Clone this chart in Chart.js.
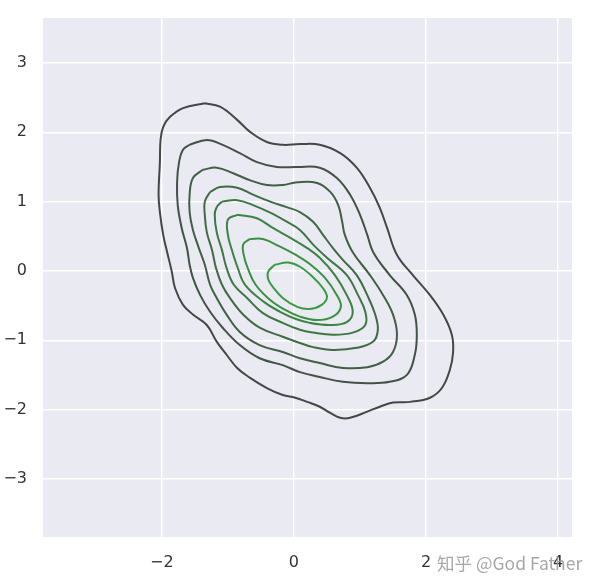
<!DOCTYPE html>
<html>
<head>
<meta charset="utf-8">
<script src="https://cdn.jsdelivr.net/npm/chart.js@4"></script>
<style>
  html, body { margin: 0; padding: 0; background: #ffffff; }
  #wrap { width: 600px; height: 587px; }
</style>
</head>
<body>
<div id="wrap"><canvas id="kdeChart" width="600" height="587"></canvas></div>
<script>
// tick values
const xTicks = [-2, 0, 2, 4];
const yTicks = [-3, -2, -1, 0, 1, 2, 3];

// KDE contour lines, from the outermost (lowest density) to the innermost
const contour1 = [
  [-1.35, 2.42], [-1.12, 2.37], [-0.86, 2.18], [-0.67, 2.01], [-0.41, 1.86], [-0.17, 1.82],
  [0.09, 1.83], [0.39, 1.82], [0.70, 1.70], [0.95, 1.49], [1.15, 1.20], [1.30, 0.91],
  [1.41, 0.62], [1.56, 0.23], [1.80, -0.06], [2.06, -0.35], [2.26, -0.63], [2.39, -0.92],
  [2.41, -1.17], [2.36, -1.43], [2.24, -1.69], [2.06, -1.83], [1.76, -1.89], [1.50, -1.90],
  [1.30, -1.96], [1.11, -2.03], [0.85, -2.12], [0.70, -2.12], [0.55, -2.05], [0.39, -1.96],
  [0.20, -1.89], [0.02, -1.83], [-0.17, -1.79], [-0.41, -1.69], [-0.67, -1.54], [-0.86, -1.40],
  [-1.02, -1.21], [-1.17, -1.02], [-1.32, -0.78], [-1.53, -0.63], [-1.68, -0.49], [-1.80, -0.25],
  [-1.85, -0.01], [-1.91, 0.23], [-1.98, 0.52], [-2.03, 0.85], [-2.05, 1.10], [-2.03, 1.57],
  [-2.02, 1.89], [-1.98, 2.08], [-1.88, 2.22], [-1.68, 2.35]
];
const contour2 = [
  [-1.58, 1.82], [-1.32, 1.89], [-1.08, 1.82], [-0.82, 1.70], [-0.56, 1.57], [-0.26, 1.50],
  [0.05, 1.50], [0.39, 1.49], [0.65, 1.34], [0.85, 1.10], [1.00, 0.81], [1.11, 0.52],
  [1.20, 0.27], [1.45, -0.06], [1.71, -0.35], [1.83, -0.63], [1.86, -0.92], [1.83, -1.21],
  [1.71, -1.50], [1.45, -1.60], [1.11, -1.62], [0.74, -1.60], [0.39, -1.53], [0.09, -1.46],
  [-0.17, -1.36], [-0.52, -1.26], [-0.82, -1.07], [-1.08, -0.82], [-1.27, -0.59], [-1.42, -0.35],
  [-1.53, -0.10], [-1.58, 0.09], [-1.62, 0.33], [-1.70, 0.62], [-1.76, 0.95], [-1.77, 1.28],
  [-1.74, 1.57], [-1.68, 1.75]
];
const contour3 = [
  [-1.38, 1.46], [-1.17, 1.49], [-0.92, 1.41], [-0.67, 1.31], [-0.41, 1.24], [-0.17, 1.24],
  [0.05, 1.28], [0.35, 1.27], [0.55, 1.14], [0.67, 0.95], [0.73, 0.71], [0.77, 0.52],
  [0.89, 0.27], [1.15, -0.06], [1.35, -0.35], [1.50, -0.63], [1.56, -0.92], [1.50, -1.17],
  [1.35, -1.31], [1.11, -1.39], [0.74, -1.40], [0.39, -1.33], [0.09, -1.26], [-0.17, -1.17],
  [-0.52, -1.07], [-0.82, -0.88], [-1.02, -0.63], [-1.17, -0.39], [-1.27, -0.20], [-1.35, 0.09],
  [-1.44, 0.33], [-1.53, 0.59], [-1.58, 0.85], [-1.58, 1.10], [-1.53, 1.34]
];
const contour4 = [
  [-1.27, 1.14], [-1.12, 1.21], [-0.86, 1.20], [-0.62, 1.10], [-0.36, 1.00], [-0.11, 0.92],
  [0.09, 0.85], [0.29, 0.71], [0.44, 0.52], [0.59, 0.33], [0.74, 0.16], [0.95, -0.06],
  [1.11, -0.35], [1.23, -0.63], [1.27, -0.85], [1.20, -1.02], [0.95, -1.11], [0.59, -1.14],
  [0.29, -1.10], [0.09, -1.04], [-0.17, -0.95], [-0.52, -0.82], [-0.77, -0.63], [-0.97, -0.39],
  [-1.09, -0.20], [-1.18, 0.04], [-1.24, 0.30], [-1.32, 0.56], [-1.35, 0.81], [-1.35, 1.00]
];
const contour5 = [
  [-1.09, 1.00], [-0.86, 1.02], [-0.62, 0.95], [-0.36, 0.84], [-0.11, 0.71], [0.09, 0.59],
  [0.29, 0.38], [0.50, 0.19], [0.80, -0.06], [0.97, -0.35], [1.08, -0.59], [1.08, -0.78],
  [0.89, -0.89], [0.59, -0.92], [0.29, -0.89], [0.09, -0.85], [-0.17, -0.75], [-0.47, -0.61],
  [-0.71, -0.39], [-0.91, -0.20], [-1.02, 0.04], [-1.09, 0.30], [-1.17, 0.56], [-1.20, 0.81],
  [-1.17, 0.92]
];
const contour6 = [
  [-0.86, 0.81], [-0.56, 0.76], [-0.32, 0.62], [-0.06, 0.48], [0.20, 0.33], [0.39, 0.19],
  [0.62, -0.06], [0.80, -0.35], [0.89, -0.59], [0.80, -0.74], [0.55, -0.78], [0.24, -0.75],
  [0.02, -0.69], [-0.21, -0.59], [-0.45, -0.45], [-0.74, -0.20], [-0.85, 0.04], [-0.94, 0.30],
  [-1.00, 0.52], [-1.00, 0.74]
];
const contour7 = [
  [-0.67, 0.46], [-0.47, 0.46], [-0.21, 0.35], [0.05, 0.22], [0.24, 0.10], [0.47, -0.10],
  [0.65, -0.35], [0.71, -0.52], [0.59, -0.66], [0.35, -0.71], [0.09, -0.66], [-0.14, -0.56],
  [-0.36, -0.42], [-0.58, -0.20], [-0.70, 0.04], [-0.76, 0.23], [-0.77, 0.38]
];
const contour8 = [
  [-0.29, 0.09], [-0.09, 0.12], [0.09, 0.06], [0.29, -0.09], [0.44, -0.25], [0.50, -0.38],
  [0.42, -0.49], [0.24, -0.55], [0.05, -0.52], [-0.17, -0.39], [-0.32, -0.23], [-0.39, -0.12],
  [-0.39, -0.01]
];

const contours = [contour1, contour2, contour3, contour4, contour5, contour6, contour7, contour8];

// dark grey -> green, like seaborn's dark palette
function levelColor(i, n) {
  const t = i / (n - 1);
  const r = Math.round(70 + (56 - 70) * t);
  const g = Math.round(70 + (156 - 70) * t);
  const b = Math.round(70 + (66 - 70) * t);
  return `rgb(${r},${g},${b})`;
}

const datasets = contours.map((pts, i) => {
  const closed = pts.concat([pts[0]]);
  return {
    label: 'level ' + (i + 1),
    data: closed.map(p => ({ x: p[0], y: p[1] })),
    showLine: true,
    borderColor: levelColor(i, contours.length),
    borderWidth: 2,
    pointRadius: 0,
    tension: 0.4,
    fill: false
  };
});

const fmt = v => (v < 0 ? '\u2212' + Math.abs(v) : String(v));

const plotBackground = {
  id: 'plotBackground',
  beforeDraw(chart) {
    const { ctx, chartArea } = chart;
    ctx.save();
    ctx.fillStyle = '#eaeaf2';
    ctx.fillRect(chartArea.left, chartArea.top, chartArea.right - chartArea.left, chartArea.bottom - chartArea.top);
    ctx.restore();
  }
};

const watermark = {
  id: 'watermark',
  afterDraw(chart) {
    const ctx = chart.ctx;
    ctx.save();
    ctx.font = '17.5px "Noto Sans CJK SC", "DejaVu Sans", sans-serif';
    ctx.fillStyle = 'rgba(150,150,150,0.85)';
    ctx.textBaseline = 'middle';
    ctx.fillText('知乎 @God Father', 437, 563);
    ctx.restore();
  }
};

new Chart(document.getElementById('kdeChart').getContext('2d'), {
  type: 'scatter',
  data: { datasets: datasets },
  options: {
    responsive: false,
    animation: false,
    layout: { padding: { top: 18, right: 28, left: 0, bottom: 0 } },
    plugins: {
      legend: { display: false },
      tooltip: { enabled: false }
    },
    scales: {
      x: {
        type: 'linear',
        min: -3.80,
        max: 4.21,
        afterBuildTicks: scale => { scale.ticks = xTicks.map(v => ({ value: v })); },
        afterFit: scale => {
          scale.height = 50;
          scale.paddingLeft = 0;
          scale.paddingRight = 0;
        },
        grid: { color: '#ffffff', lineWidth: 1.4, drawTicks: false },
        border: { display: false },
        ticks: {
          padding: 16,
          color: '#333333',
          font: { family: 'DejaVu Sans', size: 16 },
          callback: v => fmt(v)
        }
      },
      y: {
        type: 'linear',
        min: -3.84,
        max: 3.65,
        afterBuildTicks: scale => { scale.ticks = yTicks.map(v => ({ value: v })); },
        afterFit: scale => {
          scale.width = 43;
          scale.paddingTop = 0;
          scale.paddingBottom = 0;
        },
        grid: { color: '#ffffff', lineWidth: 1.4, drawTicks: false },
        border: { display: false },
        ticks: {
          padding: 16,
          color: '#333333',
          font: { family: 'DejaVu Sans', size: 16 },
          callback: v => fmt(v)
        }
      }
    }
  },
  plugins: [plotBackground, watermark]
});
</script>
</body>
</html>
